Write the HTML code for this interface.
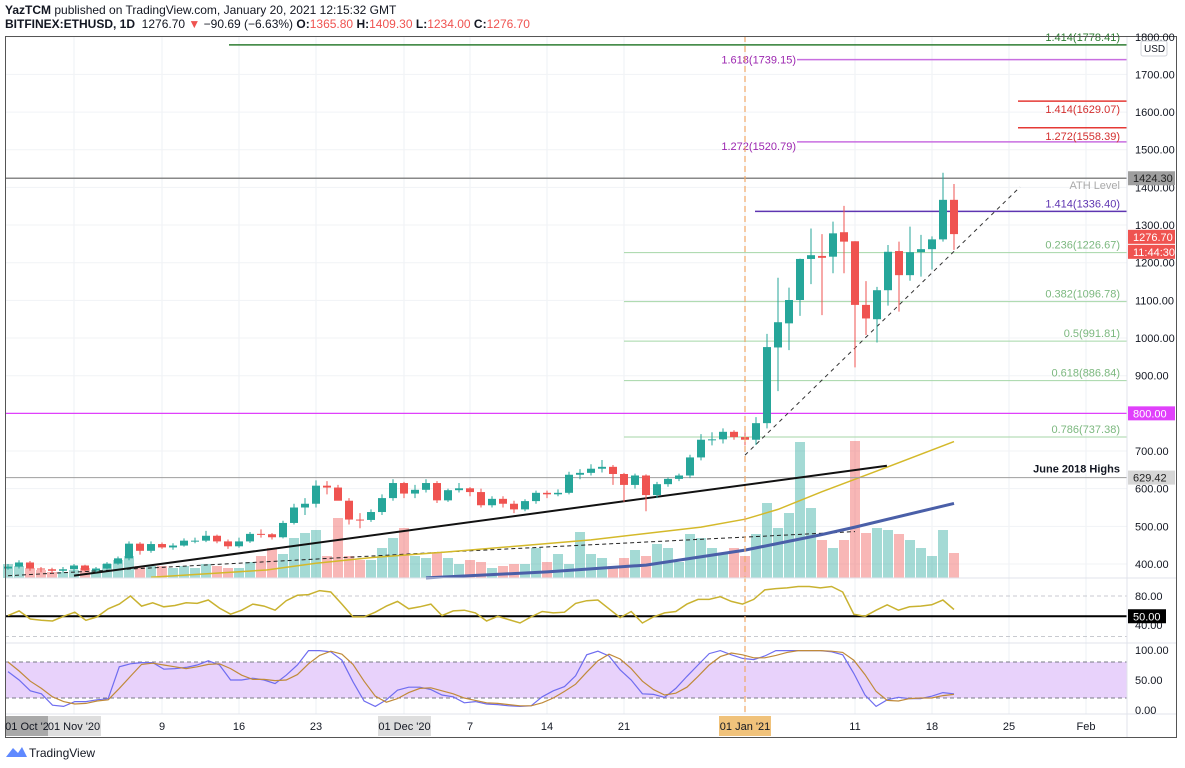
<!DOCTYPE html>
<html><head><meta charset="utf-8"><title>ETHUSD chart</title>
<style>
html,body{margin:0;padding:0;background:#fff;}
body{width:1185px;height:768px;overflow:hidden;font-family:"Liberation Sans",sans-serif;}
#hdr1{position:absolute;left:5px;top:3px;font-size:12px;color:#131722;}
#hdr2{position:absolute;left:5px;top:17px;font-size:12px;color:#131722;}
.rd{color:#ef5350;}
svg{position:absolute;left:0;top:0;}
svg text{font-family:"Liberation Sans",sans-serif;}
</style></head>
<body>
<div id="hdr1"><b>YazTCM</b> published on TradingView.com, January 20, 2021 12:15:32 GMT</div>
<div id="hdr2"><b>BITFINEX:ETHUSD, 1D</b>&nbsp; 1276.70 <span class="rd">▼</span> −90.69 (−6.63%) <b>O:</b><span class="rd">1365.80</span> <b>H:</b><span class="rd">1409.30</span> <b>L:</b><span class="rd">1234.00</span> <b>C:</b><span class="rd">1276.70</span></div>
<svg id="chart" width="1185" height="768" viewBox="0 0 1185 768"></svg>
<script>
// ---- data (day index 0 = 01 Nov 2020, first candle = day -6) ----
const firstDay = -6;
const opens = [388,393,404,388,386,382,
386,396,383,388,401,415,454,435,453,444,449,462,462,475,460,447,460,480,479,471,509,550,560,608,603,568,518,517,538,575,
615,587,597,615,569,596,601,591,556,573,560,545,567,589,585,589,637,642,653,658,639,610,635,583,612,626,635,683,730,731,751,
737,730,774,975,1039,1101,1210,1218,1216,1281,1257,1088,1050,1127,1231,1167,1228,1236,1262,1367];
const highs = [400,410,408,392,390,392,
400,398,392,405,420,460,458,460,457,455,468,470,488,478,465,470,485,492,482,515,560,575,622,620,610,575,535,545,585,625,
618,610,625,620,600,615,604,600,580,580,568,572,595,595,598,645,652,665,676,663,642,640,638,618,630,640,690,745,750,760,755,
750,790,1011,1160,1134,1211,1291,1276,1309,1351,1257,1151,1136,1247,1256,1296,1274,1270,1439,1409];
const lows = [385,388,382,378,375,378,
380,380,378,386,398,410,425,430,440,438,446,455,458,455,440,443,456,470,465,468,505,530,550,585,590,505,495,512,530,568,
575,575,590,562,565,590,580,550,550,550,535,540,560,575,580,585,625,635,643,610,565,600,540,575,605,620,628,675,715,720,730,
715,716,760,859,968,1059,1143,1061,1172,1172,922,1008,988,1086,1070,1152,1163,1182,1256,1234];
const closes = [393,404,388,386,382,386,
396,383,388,401,415,454,435,453,444,449,462,462,475,460,447,460,480,479,471,509,550,560,608,603,568,518,517,538,575,615,
587,597,615,569,596,601,591,556,573,560,545,567,589,585,589,637,642,653,658,639,610,635,583,612,626,635,683,730,731,751,737,
730,774,976,1042,1101,1210,1220,1213,1278,1256,1088,1052,1127,1229,1167,1228,1236,1262,1367,1276];
const volumes = [14,12,10,8,6,6,
8,10,8,14,18,22,12,12,12,10,12,10,14,12,10,10,16,22,30,24,40,45,48,22,60,22,18,18,30,40,
50,22,20,26,20,14,18,16,10,12,14,14,30,16,24,14,46,24,20,12,20,28,22,34,30,16,44,40,30,24,30,
22,44,75,50,65,136,70,38,30,38,137,45,50,48,44,38,30,22,48,25];
const rsiValues = [51,58,46,44,43,50,56,44,49,61,68,80,65,70,64,66,70,69,74,62,53,59,68,65,59,73,81,82,88,86,68,49,49,56,65,72,61,64,68,51,58,59,55,43,50,45,40,49,57,55,56,69,73,74,
61,48,57,40,49,55,57,68,75,75,79,72,68,75,89,91,92,94,94,92,94,86,53,50,59,67,59,64,65,67,74,60];
const stochK = [64,50,32,27,8,6,14,14,17,19,72,77,79,79,68,69,71,75,82,75,50,50,53,50,44,58,75,99,99,97,83,47,15,6,17,33,38,38,34,25,22,12,14,10,9,7,6,7,22,32,39,57,92,98,
90,67,50,27,26,21,36,56,75,94,99,92,86,84,90,99,99,99,99,99,97,92,61,25,6,17,21,19,19,23,29,27];
const stochD = [80,65,48,36,22,14,10,11,15,17,36,56,76,78,75,72,69,72,76,77,69,58,51,51,49,50,59,77,91,98,93,76,48,23,13,19,29,36,37,32,27,20,16,12,11,9,7,7,12,20,31,43,63,82,
93,85,69,48,34,25,28,38,56,75,89,95,92,87,87,91,96,99,99,99,98,96,83,59,31,16,15,19,20,20,24,26];
const maYellowDays = [7,17.5,22,27,34,47,57,61,64,68,74,80];
const maYellowVals = [365,384,402,417,432,464,498,519,545,592,658,725];
const maBlueDays = [32,43,52,61,67.8,71,80];
const maBlueVals = [363,379,397,437,477,498,561];
const maDashDays = [-6,34,71];
const maDashVals = [369,432,486];
const priceTicks = [1800,1700,1600,1500,1400,1300,1200,1100,1000,900,800,700,600,500,400];
const timeTickDays = [8,15,22,36,43,50,71,78,85,92];
const timeTickLabels = ["9","16","23","7","14","21","11","18","25","Feb"];
const fibLevels = [1226.67,1096.78,991.81,886.84,737.38];
const fibLabels = ["0.236(1226.67)","0.382(1096.78)","0.5(991.81)","0.618(886.84)","0.786(737.38)"];

// ---- scales ----
const X0 = 74, DAY = 11;
function xOf(d){ return X0 + d*DAY; }
function yP(p){ return 564 - (p-400)*0.3766; }
function yRsi(v){ return 616.25 - (v-50)*0.675; }
function ySt(v){ return 710 - v*0.6; }
function yVol(v){ return 578 - v; }
const PR = 1127;
const svg = document.getElementById('chart');
const NS = 'http://www.w3.org/2000/svg';
function mk(tag, attrs, parent){
  const e = document.createElementNS(NS, tag);
  for (const k in attrs) e.setAttribute(k, attrs[k]);
  (parent||svg).appendChild(e); return e;
}
function txt(s, attrs, parent){ const t = mk('text', attrs, parent); t.textContent = s; return t; }

// grid
const grid = mk('g', {});


[0,30,61].concat(timeTickDays).forEach(d=>{
  const l = mk('line',{x1:xOf(d),x2:xOf(d),y1:36,y2:714,stroke:'#eef0f4','stroke-width':1},grid);
  
  
});
priceTicks.forEach(p=>{
  const l = mk('line',{x1:5,x2:PR,y1:yP(p),y2:yP(p),stroke:'#f1f3f6','stroke-width':1},grid);
  
  
});

// stoch band
const band = mk('rect',{x:5,y:ySt(80),width:PR-5,height:ySt(20)-ySt(80),fill:'#e8d2fb'});


[80,20].forEach(v=>{
  const l = mk('line',{x1:5,x2:PR,y1:ySt(v),y2:ySt(v),stroke:'#787b86','stroke-dasharray':'4 3','stroke-width':1});
  
  
});
[80,20].forEach(v=>{
  const l = mk('line',{x1:5,x2:PR,y1:yRsi(v),y2:yRsi(v),stroke:'#c8cad0','stroke-dasharray':'4 3','stroke-width':1});
  
  
});

// volume
const vg = mk('g',{});


volumes.forEach((v,i)=>{
  const d = firstDay+i; const up = closes[i]>=opens[i];
  const r = mk('rect',{x:xOf(d)-5,y:yVol(v),width:10,height:v,fill:up?'rgba(38,166,154,0.42)':'rgba(239,83,80,0.42)'},vg);
  
  
});

// moving averages
function poly(days, vals, yf){ return days.map((d,i)=>xOf(d).toFixed(1)+','+yf(vals[i]).toFixed(1)).join(' '); }
const maD = mk('polyline',{points:poly(maDashDays,maDashVals,yP),fill:'none',stroke:'#222','stroke-width':1,'stroke-dasharray':'4 3'});


const maY = mk('polyline',{points:poly(maYellowDays,maYellowVals,yP),fill:'none',stroke:'#d4b92a','stroke-width':1.5});


const maB = mk('polyline',{points:poly(maBlueDays,maBlueVals,yP),fill:'none',stroke:'#4a5fa8','stroke-width':3});



// horizontal levels
function hline(p,x1,x2,color,w,name){
  const l = mk('line',{x1:x1,x2:x2,y1:yP(p),y2:yP(p),stroke:color,'stroke-width':w});
  
  
}
hline(1778.41,229,PR,'#2e7d32',1.5,'fib-1778-line');
hline(1739.15,797,PR,'#c86ee0',1.5,'fib-1739-line');
hline(1629.07,1018,PR,'#e53935',1.5,'fib-1629-line');
hline(1558.39,1018,PR,'#e53935',1.5,'fib-1558-line');
hline(1520.79,797,PR,'#c86ee0',1.5,'fib-1520-line');
hline(1424.30,5,PR,'#888',1.5,'ath-level-line');
hline(1336.40,755,PR,'#5e35b1',1.5,'fib-1336-line');
fibLevels.forEach(p=>hline(p,624,PR,'#a5d6a7',1,'fib-retracement-line'));
hline(800,5,PR,'#e040fb',1.2,'level-800-line');
hline(629.42,5,PR,'#9e9e9e',1,'june-2018-highs-line');

function label(s,x,y,color,anchor,name,weight){
  const t = txt(s,{x:x,y:y,fill:color,'font-size':11,'text-anchor':anchor||'end','font-weight':weight||'normal'});
  
  
}
label('1.414(1778.41)',1120,yP(1778.41)-4,'#2e7d32','end','fib-1778-label');
label('1.618(1739.15)',796,yP(1739.15)+4,'#9c27b0','end','fib-1739-label');
label('1.414(1629.07)',1120,yP(1629.07)+12,'#d32f2f','end','fib-1629-label');
label('1.272(1558.39)',1120,yP(1558.39)+12,'#d32f2f','end','fib-1558-label');
label('1.272(1520.79)',796,yP(1520.79)+8,'#9c27b0','end','fib-1520-label');
label('ATH Level',1120,yP(1424.30)+11,'#aaa','end','ath-level-label');
label('1.414(1336.40)',1120,yP(1336.40)-4,'#5e35b1','end','fib-1336-label');
fibLevels.forEach((p,i)=>label(fibLabels[i],1120,yP(p)-4,'#7cb87f','end','fib-label'));
label('June 2018 Highs',1120,yP(629.42)-5,'#131722','end','june-2018-highs-label','bold');

// trendlines
const tl1 = mk('line',{x1:xOf(0),y1:yP(369),x2:xOf(73.9),y2:yP(661),stroke:'#111','stroke-width':2});


const tl2 = mk('line',{x1:xOf(61),y1:yP(689),x2:xOf(86),y2:yP(1401),stroke:'#333','stroke-width':1,'stroke-dasharray':'4 4'});



// candles
const cg = mk('g',{});


closes.forEach((c,i)=>{
  const d = firstDay+i, o = opens[i], up = c>=o, col = up?'#26a69a':'#ef5350';
  const x = xOf(d);
  const w = mk('line',{x1:x,x2:x,y1:yP(highs[i]),y2:yP(lows[i]),stroke:col,'stroke-width':1},cg);
  
  
  const top = yP(Math.max(o,c)), bot = yP(Math.min(o,c));
  const b = mk('rect',{x:x-4,y:top,width:8,height:Math.max(1,bot-top),fill:col},cg);
  
  
});

// RSI pane
const rsi50 = mk('line',{x1:5,x2:PR,y1:yRsi(50),y2:yRsi(50),stroke:'#000','stroke-width':2});


function xInd(i,n){ return xOf(firstDay + i*86/(n-1)); }
const rsiL = mk('polyline',{points:rsiValues.map((v,i)=>xInd(i,rsiValues.length).toFixed(1)+','+yRsi(v).toFixed(1)).join(' '),fill:'none',stroke:'#c9b230','stroke-width':1.5});


const kL = mk('polyline',{points:stochK.map((v,i)=>xInd(i,stochK.length).toFixed(1)+','+ySt(v).toFixed(1)).join(' '),fill:'none',stroke:'#6f6df0','stroke-width':1.2});


const dL = mk('polyline',{points:stochD.map((v,i)=>xInd(i,stochD.length).toFixed(1)+','+ySt(v).toFixed(1)).join(' '),fill:'none',stroke:'#c08a3a','stroke-width':1.2});



// Jan 1 vertical dashed
const vj = mk('line',{x1:xOf(61),x2:xOf(61),y1:36,y2:714,stroke:'#f0a868','stroke-width':1.2,'stroke-dasharray':'6 4'});



// pane separators & frame
[578,643,714].forEach(y=>{
  const l = mk('line',{x1:5,x2:1177,y1:y,y2:y,stroke:'#e0e3eb','stroke-width':1});
  
  
});
const axSep = mk('line',{x1:PR,x2:PR,y1:36,y2:738,stroke:'#e0e3eb','stroke-width':1});


const frame = mk('rect',{x:5.5,y:36.5,width:1171,height:701,fill:'none',stroke:'#555','stroke-width':1});



// price axis labels
priceTicks.forEach(p=>{
  const t = txt(p.toFixed(2),{x:1135,y:yP(p)+4,'font-size':11,fill:'#131722'});
  
  
});
function axBox(s,y,bg,fg,name,w){
  const r = mk('rect',{x:1128,y:y-7,width:w||47,height:14,fill:bg});
  
  
  const t = txt(s,{x:1133,y:y+4,'font-size':11,fill:fg});
  
  
}
axBox('1424.30',yP(1424.30),'#9e9e9e','#222','ath-price-tag');
axBox('1276.70',yP(1276.70)+3,'#ef5350','#fff','last-price-tag');
axBox('11:44:30',yP(1276.70)+18,'#ef5350','#fff','countdown-tag');
axBox('800.00',yP(800),'#e040fb','#fff','level-800-tag');
axBox('629.42',yP(629.42),'#d6d6d6','#222','june-2018-tag');
const usd = mk('rect',{x:1141,y:41,width:26,height:15,rx:2,fill:'#fff',stroke:'#d0d3da'});


const usdT = txt('USD',{x:1144,y:52,'font-size':10,fill:'#131722'});



[['80.00',yRsi(80)],['40.00',yRsi(40)+2]].forEach(a=>{
  const t = txt(a[0],{x:1135,y:a[1]+4,'font-size':11,fill:'#131722'});
  
  
});
axBox('50.00',yRsi(50),'#000','#fff','rsi-50-tag',38);
[100,50,0].forEach(v=>{
  const t = txt(v.toFixed(2),{x:1135,y:ySt(v)+4,'font-size':11,fill:'#131722'});
  
  
});

// time axis
function tbox(s,x1,w,bg,name){
  const r = mk('rect',{x:x1,y:716,width:w,height:20,fill:bg});
  
  
  const t = txt(s,{x:x1+w/2,y:730,'font-size':11,fill:'#131722','text-anchor':'middle'});
  
  
}
tbox("01 Nov '20",47,54,'#dedede','time-label-nov');
tbox("01 Oct '2",6,42,'#a9a9a9','time-label-oct');
tbox("01 Dec '20",378,53,'#dedede','time-label-dec');
tbox("01 Jan '21",719,52,'#f0c27b','time-label-jan');
timeTickDays.forEach((d,i)=>{
  const t = txt(timeTickLabels[i],{x:xOf(d),y:730,'font-size':11,fill:'#131722','text-anchor':'middle'});
  
  
});

// logo
const logo = mk('path',{d:'M6 757 L13 748 L18 753 L22 747 L27 757 Z',fill:'#2962ff',opacity:0.75});


const lt = txt('TradingView',{x:29,y:757,'font-size':12,fill:'#131722'});


</script>
</body></html>
